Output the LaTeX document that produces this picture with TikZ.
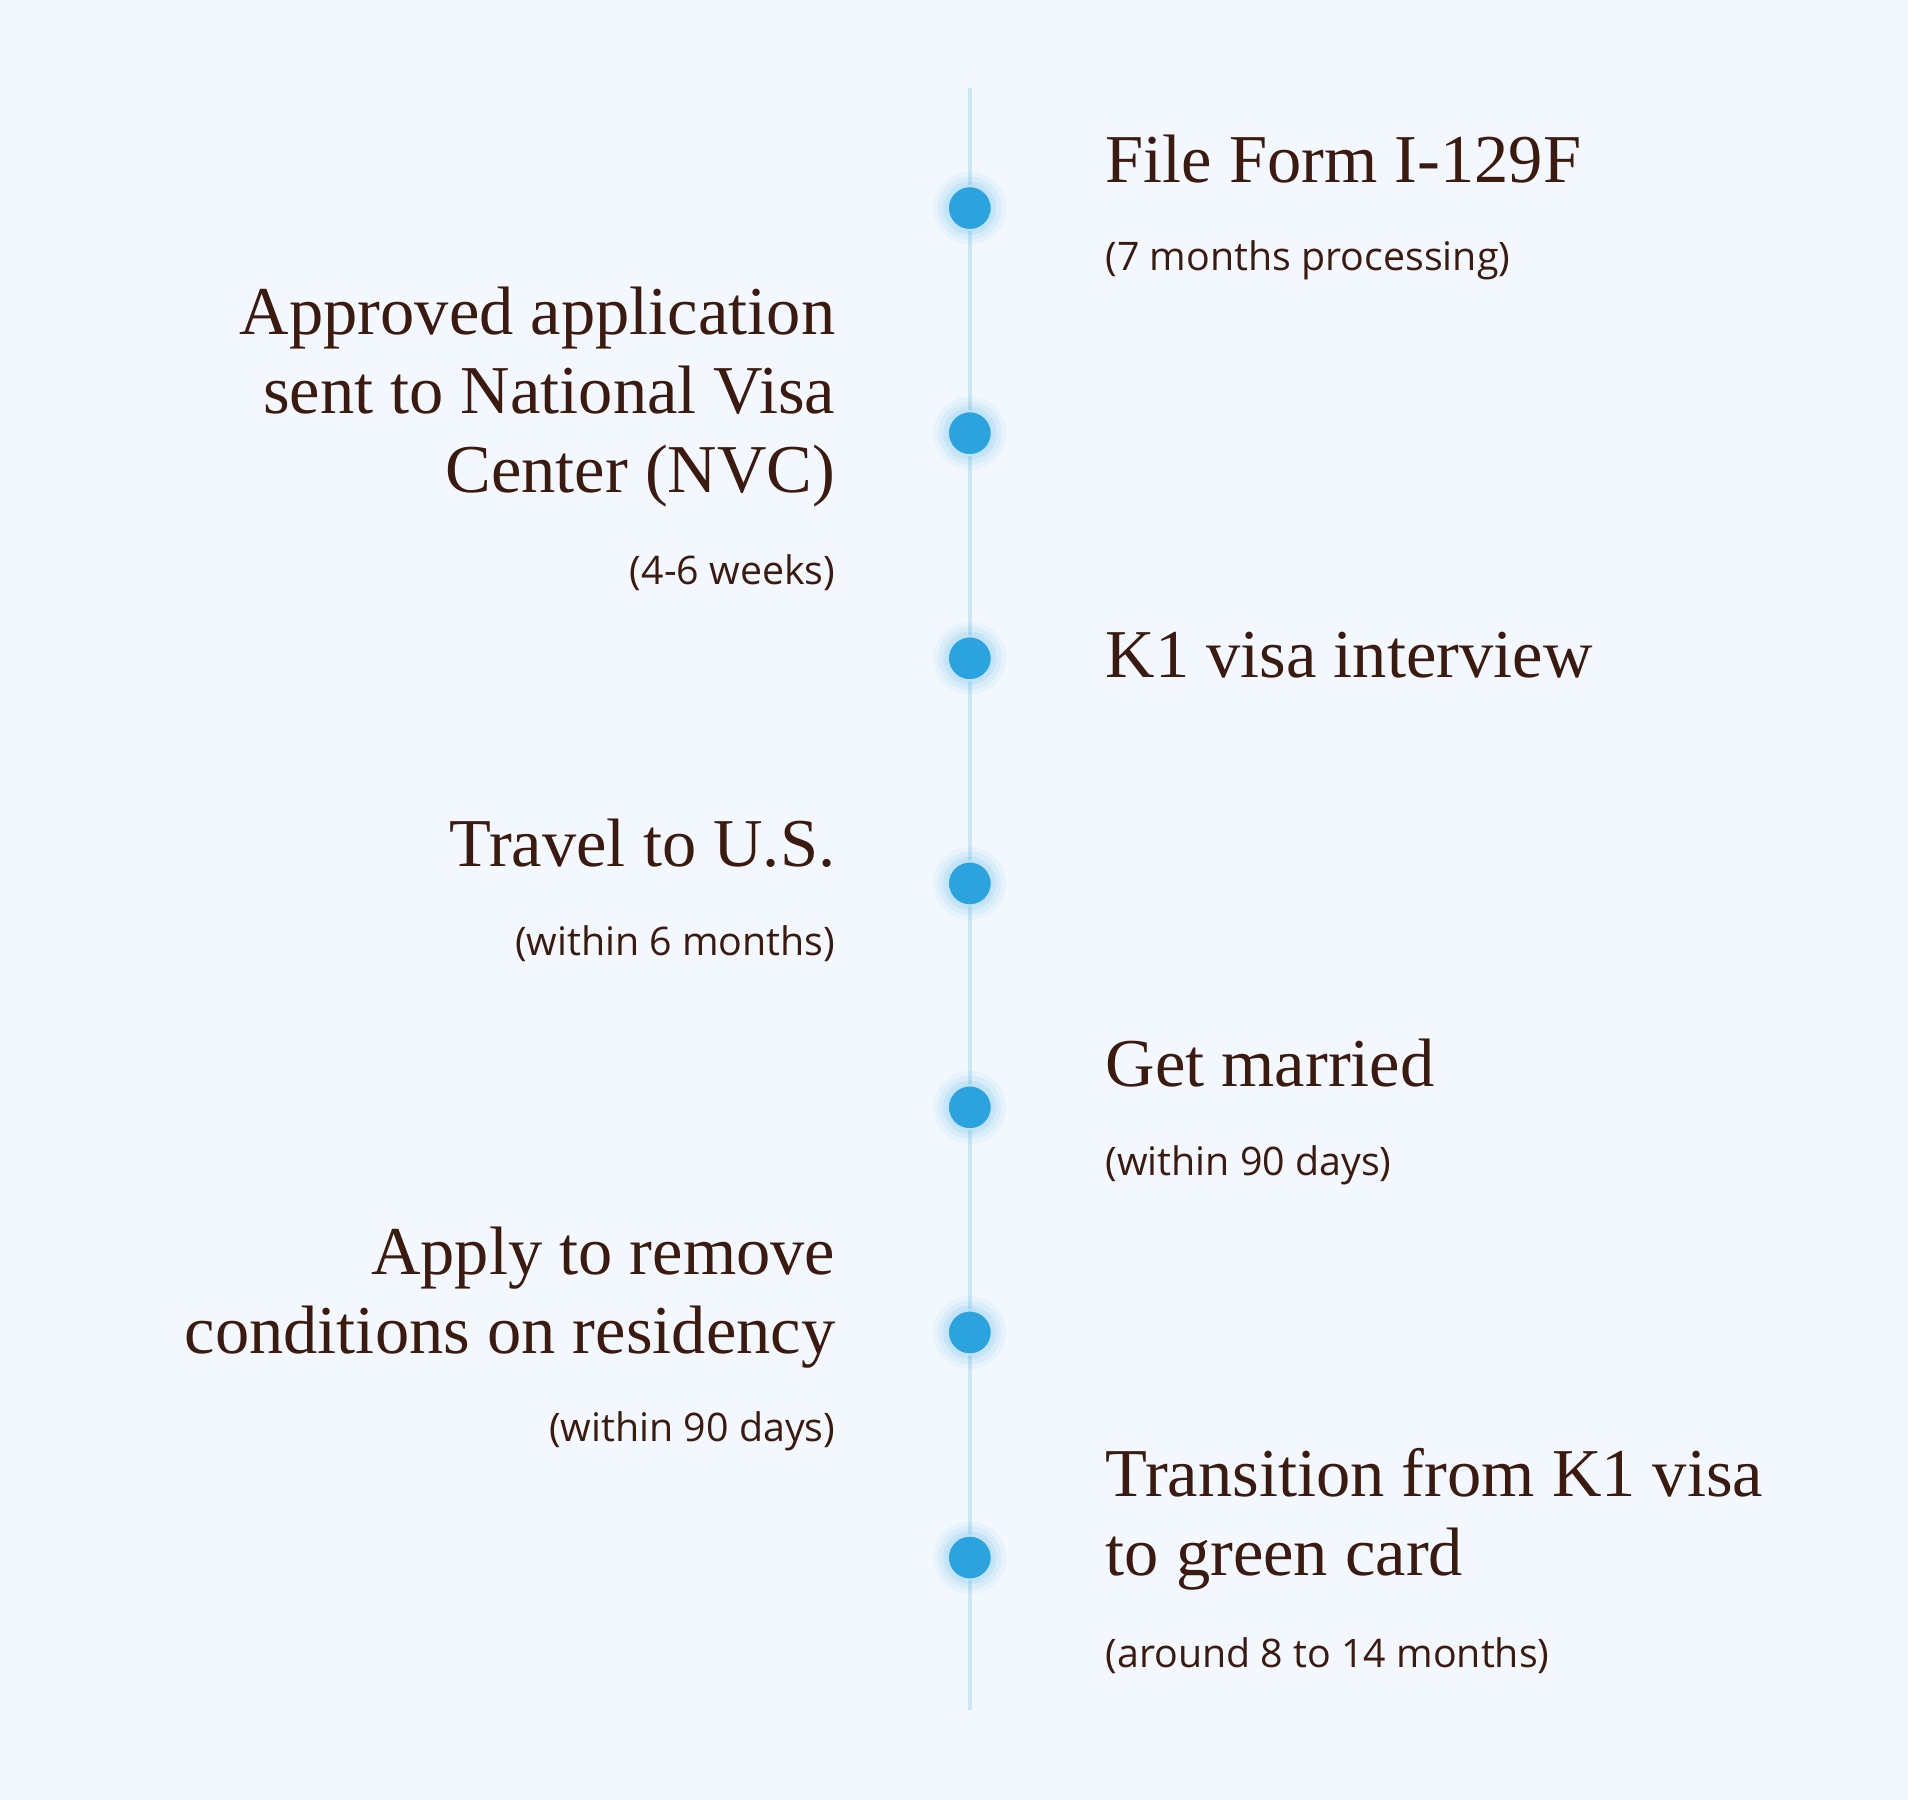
\documentclass[tikz,border=0pt]{standalone}
\usepackage{fontspec}
\setmainfont{Liberation Serif}
\newfontfamily\subf{Open Sans}
\definecolor{bg}{HTML}{F2F8FE}
\definecolor{ink}{HTML}{3B1A0F}
\definecolor{dot}{HTML}{2AA3DF}
\definecolor{rail}{HTML}{CDE6F4}
\tikzset{
 ttl/.style={text=ink,font=\fontsize{19.5}{22}\selectfont,inner sep=0pt},
 sub/.style={text=ink,font=\subf\fontsize{11.2}{13}\selectfont,inner sep=0pt},
 dotc/.style={circle,fill=dot,draw=white!70!dot,line width=0.6pt,minimum size=0.44cm,inner sep=0pt}
}
\begin{document}
\begin{tikzpicture}[x=0.01217cm,y=-0.01217cm]
\fill[bg] (0,0) rectangle (1568,1479);
\useasboundingbox (0,0) rectangle (1568,1479);
\coordinate (top) at (797,72);
\coordinate (bot) at (797,1405);
\draw[rail,line width=1.2pt] (top) -- (bot);
\foreach \n/\y in {1/171,2/356,3/541,4/726,5/910,6/1095,7/1280}{
  \foreach \r/\o in {30/0.05,26/0.07,22/0.1}{\fill[dot,opacity=\o] (797,\y) circle (\r);}
  \node[dotc] (d\n) at (797,\y) {};
}
\node[ttl,anchor=base west] (t1) at (908,150) {File Form I-129F};
\node[sub,anchor=base west] (s1) at (908,222) {(7 months processing)};
\node[ttl,anchor=base east] (t2a) at (687,275) {Approved application};
\node[ttl,anchor=base east] (t2b) at (687,340) {sent to National Visa};
\node[ttl,anchor=base east] (t2c) at (687,405) {Center (NVC)};
\node[sub,anchor=base east] (s2) at (687,480) {(4-6 weeks)};
\node[ttl,anchor=base west] (t3) at (908,557) {K1 visa interview};
\node[ttl,anchor=base east] (t4) at (687,712) {Travel to U.S.};
\node[sub,anchor=base east] (s4) at (687,785) {(within 6 months)};
\node[ttl,anchor=base west] (t5) at (908,893) {Get married};
\node[sub,anchor=base west] (s5) at (908,966) {(within 90 days)};
\node[ttl,anchor=base east] (t6a) at (687,1047) {Apply to remove};
\node[ttl,anchor=base east] (t6b) at (687,1112) {conditions on residency};
\node[sub,anchor=base east] (s6) at (687,1185) {(within 90 days)};
\node[ttl,anchor=base west] (t7a) at (908,1230) {Transition from K1 visa};
\node[ttl,anchor=base west] (t7b) at (908,1295) {to green card};
\node[sub,anchor=base west] (s7) at (908,1370) {(around 8 to 14 months)};
\end{tikzpicture}
\end{document}
